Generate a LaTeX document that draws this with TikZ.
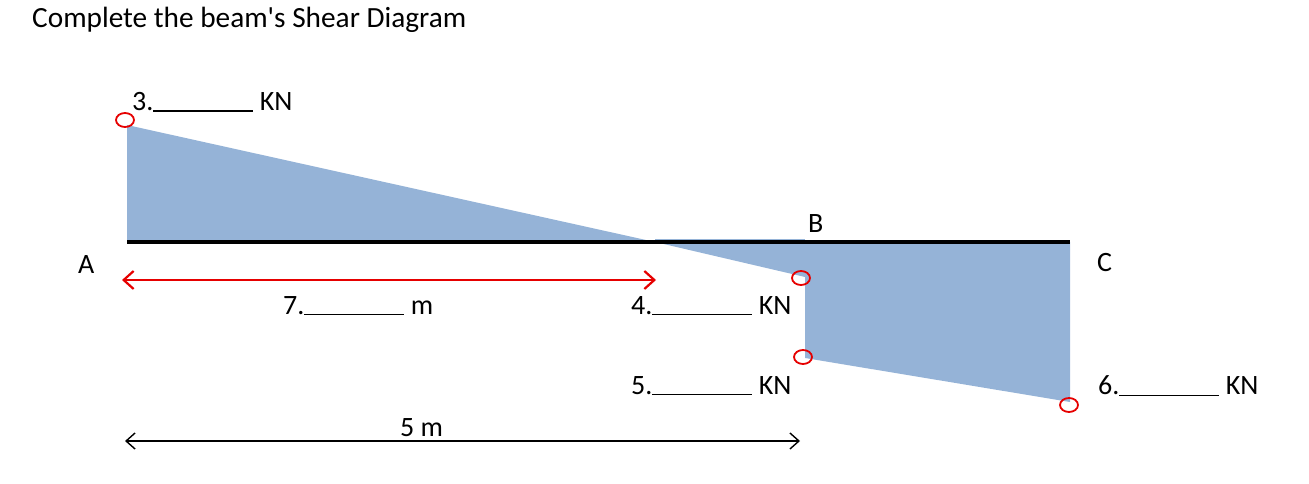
\documentclass[tikz,border=0pt]{standalone}
\usepackage{fontspec}
\setmainfont{Carlito}
\usetikzlibrary{arrows.meta}
\definecolor{fillblue}{RGB}{149,179,215}
\definecolor{mred}{RGB}{230,0,0}
\tikzset{lbl/.style={anchor=west,inner sep=0pt,font=\fontsize{28}{30}\selectfont},
 ring/.style={draw=mred,line width=1.8pt}}
\newcommand{\blank}{\rule[-1pt]{100pt}{1.4pt}}
\begin{document}
\begin{tikzpicture}[x=1pt,y=-1pt]
\useasboundingbox (0,0) rectangle (1309,484);
\fill[fillblue] (127,125) -- (127,242) -- (655,242) -- cycle;
\fill[fillblue] (655,242) -- (1070,242) -- (1070,402) -- (805,358) -- (805,277) -- cycle;
\draw[fillblue,line width=1.5pt] (655,240) -- (805,240);
\draw[line width=3.5pt] (127,242) -- (1070,242);
\foreach \n/\x/\y in {r1/125/120,r2/801/278,r3/803/357,r4/1069/405}
  \draw[ring] (\x,\y) coordinate (\n) ellipse (9 and 7);
\coordinate (ra) at (122,280); \coordinate (rb) at (656,280);
\draw[mred,line width=2.2pt,{Straight Barb[length=10pt,width=18pt]}-{Straight Barb[length=10pt,width=18pt]}] (ra) -- (rb);
\coordinate (ba) at (125,441); \coordinate (bb) at (800,441);
\draw[line width=1.4pt,{Straight Barb[length=9pt,width=16pt]}-{Straight Barb[length=9pt,width=16pt]}] (ba) -- (bb);
\node[lbl,font=\fontsize{29.3}{30}\selectfont] (t) at (32,20) {Complete the beam\textquotesingle s Shear Diagram};
\node[lbl] (l3) at (132,102) {3.\blank\ KN};
\node[lbl] (la) at (78,265) {A};
\node[lbl] (lb) at (808,224) {B};
\node[lbl] (lc) at (1097,263) {C};
\node[lbl] (l7) at (283,306) {7.\blank\ m};
\node[lbl] (l4) at (631,306) {4.\blank\ KN};
\node[lbl] (l5) at (631,386) {5.\blank\ KN};
\node[lbl] (l6) at (1098,386) {6.\blank\ KN};
\node[lbl] (l5m) at (400,428) {5 m};
\end{tikzpicture}
\end{document}
